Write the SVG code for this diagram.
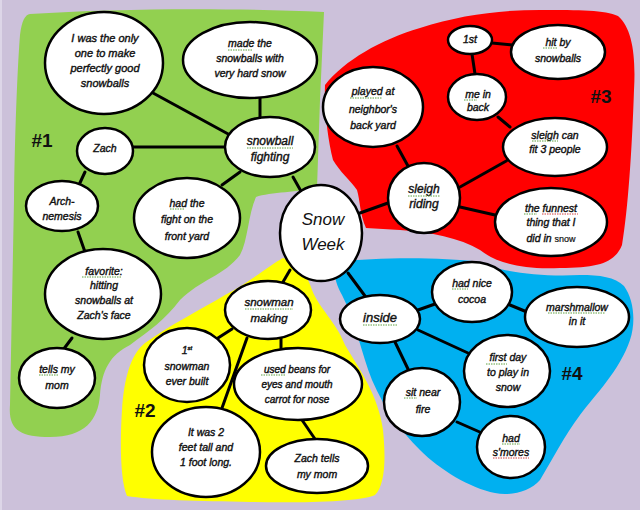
<svg xmlns="http://www.w3.org/2000/svg" width="640" height="510" viewBox="0 0 640 510">
<style>
.n{fill:#fff;stroke:#000;stroke-width:2.5}
.t{font-family:"Liberation Sans",Arial,sans-serif;font-style:italic;font-size:10.5px;fill:#111;text-anchor:middle;stroke:#111;stroke-width:0.4}
.big{font-size:12px}
.c line{stroke:#000;stroke-width:3;stroke-linecap:round}
.lab{font-family:"Liberation Sans",Arial,sans-serif;font-weight:bold;font-size:19px;fill:#111;text-anchor:middle}
.sg{stroke:#5fa040;stroke-width:1;stroke-dasharray:1.5 1}
.sr{stroke:#d04040;stroke-width:1;stroke-dasharray:1.5 1}
</style>
<rect x="0" y="0" width="640" height="510" fill="#ccc1da"/>
<rect x="0" y="0" width="2" height="510" fill="#ddd6e8"/>

<g id="regions">
<path fill="#92d050" d="M30 14 C120 8 240 8 324 12 L320 100 L317 188 C300 192 270 192 256 197 C248 215 248 240 240 255 C225 275 200 280 180 300 C165 320 150 330 130 345 C110 355 102 370 100 395 C98 420 85 437 50 437 C20 437 8 430 10 405 L14 200 C15 120 18 60 20 35 C22 20 25 15 30 14 Z"/>
<path fill="#ff0000" d="M325 85 C345 60 380 40 420 28 C460 15 500 10 540 10 C580 10 605 10 618 16 C632 28 636 55 634 90 C632 150 628 210 622 245 C615 262 600 268 560 268 C520 270 495 262 480 250 C460 238 430 232 400 230 L366 228 C360 215 360 200 357 190 C350 180 340 172 333 160 C328 140 324 110 325 85 Z"/>
<path fill="#00b0f0" d="M336 262 C380 257 440 257 480 262 C500 272 540 277 580 275 C600 275 615 277 624 286 C634 300 636 322 630 340 C620 370 595 395 580 415 C565 435 552 460 540 480 C530 492 510 496 495 493 C470 488 440 470 420 450 C400 430 385 410 372 380 C362 355 355 320 342 295 C336 285 332 270 336 262 Z"/>
<path fill="#ffff00" d="M283 258 C295 262 305 268 312 290 C320 310 335 320 345 345 C360 370 378 395 383 430 C386 460 385 485 375 495 C360 502 300 503 250 502 C200 501 150 500 127 496 C120 480 120 440 122 410 C124 380 130 355 145 343 C170 325 200 310 225 295 C250 282 270 265 283 258 Z"/>
</g>

<g id="labels">
<text class="lab" x="42" y="147">#1</text>
<text class="lab" x="145" y="417">#2</text>
<text class="lab" x="601" y="103">#3</text>
<text class="lab" x="572" y="380">#4</text>
</g>

<g id="connectors" class="c">
<line x1="153" y1="93" x2="230" y2="135"/>
<line x1="260" y1="98" x2="260" y2="118"/>
<line x1="133" y1="147" x2="225" y2="147"/>
<line x1="85" y1="172" x2="78" y2="187"/>
<line x1="78" y1="232" x2="85" y2="252"/>
<line x1="240" y1="172" x2="222" y2="185"/>
<line x1="293" y1="177" x2="302" y2="193"/>
<line x1="72" y1="338" x2="63" y2="350"/>
<line x1="492" y1="43" x2="512" y2="45"/>
<line x1="472" y1="54" x2="475" y2="74"/>
<line x1="498" y1="117" x2="510" y2="127"/>
<line x1="508" y1="160" x2="460" y2="187"/>
<line x1="397" y1="146" x2="408" y2="166"/>
<line x1="460" y1="207" x2="495" y2="215"/>
<line x1="360" y1="213" x2="388" y2="203"/>
<line x1="348" y1="273" x2="365" y2="296"/>
<line x1="418" y1="310" x2="435" y2="304"/>
<line x1="510" y1="305" x2="527" y2="312"/>
<line x1="418" y1="330" x2="468" y2="353"/>
<line x1="395" y1="342" x2="408" y2="369"/>
<line x1="457" y1="422" x2="482" y2="433"/>
<line x1="290" y1="270" x2="283" y2="282"/>
<line x1="232" y1="329" x2="218" y2="338"/>
<line x1="247" y1="338" x2="222" y2="408"/>
<line x1="281" y1="337" x2="281" y2="348"/>
<line x1="302" y1="420" x2="315" y2="439"/>
</g>

<g id="n-snowweek"><ellipse class="n" cx="321" cy="233" rx="41" ry="48"/>
<text class="t" style="font-size:17px;stroke-width:0" x="323"><tspan x="323" y="225">Snow</tspan><tspan x="323" y="250">Week</tspan></text></g>

<g id="n-only"><ellipse class="n" cx="104" cy="63" rx="59" ry="51"/>
<text class="t" style="font-size:11px"><tspan x="105" y="42">I was the only</tspan><tspan x="105" y="57">one to make</tspan><tspan x="105" y="72">perfectly good</tspan><tspan x="105" y="87">snowballs</tspan></text></g>

<g id="n-made"><ellipse class="n" cx="250" cy="60" rx="67" ry="38"/>
<text class="t"><tspan x="250" y="47">made the</tspan><tspan x="250" y="62">snowballs with</tspan><tspan x="250" y="77">very hard snow</tspan></text>
<line class="sg" x1="228" y1="50" x2="252" y2="50"/></g>

<g id="n-fighting"><ellipse class="n" cx="270" cy="147" rx="45" ry="30"/>
<text class="t big"><tspan x="270" y="145">snowball</tspan><tspan x="270" y="161">fighting</tspan></text>
<line class="sg" x1="247" y1="148" x2="293" y2="148"/></g>

<g id="n-zach"><ellipse class="n" cx="105" cy="151" rx="28" ry="23"/>
<text class="t" x="105" y="152">Zach</text></g>

<g id="n-arch"><ellipse class="n" cx="62" cy="206" rx="36" ry="25"/>
<text class="t"><tspan x="62" y="205">Arch-</tspan><tspan x="62" y="220">nemesis</tspan></text></g>

<g id="n-front"><ellipse class="n" cx="187" cy="218" rx="53" ry="40"/>
<text class="t"><tspan x="187" y="207">had the</tspan><tspan x="187" y="223">fight on the</tspan><tspan x="187" y="240">front yard</tspan></text>
<line class="sg" x1="170" y1="209" x2="185" y2="209"/></g>

<g id="n-favorite"><ellipse class="n" cx="103" cy="294" rx="58" ry="45"/>
<text class="t"><tspan x="104" y="275">favorite:</tspan><tspan x="104" y="289">hitting</tspan><tspan x="104" y="304">snowballs at</tspan><tspan x="104" y="319">Zach's face</tspan></text>
<line class="sg" x1="82" y1="277" x2="122" y2="277"/></g>

<g id="n-tells"><ellipse class="n" cx="57" cy="378" rx="38" ry="30"/>
<text class="t"><tspan x="57" y="373">tells my</tspan><tspan x="57" y="389">mom</tspan></text>
<line class="sg" x1="39" y1="375" x2="58" y2="375"/></g>

<g id="n-1st"><ellipse class="n" cx="470" cy="40" rx="22" ry="14"/>
<text class="t" x="470" y="43">1st</text></g>

<g id="n-hit"><ellipse class="n" cx="558" cy="52" rx="47" ry="27"/>
<text class="t"><tspan x="558" y="46">hit by</tspan><tspan x="558" y="62">snowballs</tspan></text>
<line class="sg" x1="543" y1="48" x2="557" y2="48"/></g>

<g id="n-me"><ellipse class="n" cx="477" cy="97" rx="29" ry="23"/>
<text class="t"><tspan x="478" y="98">me in</tspan><tspan x="478" y="111">back</tspan></text>
<line class="sg" x1="464" y1="100" x2="477" y2="100"/></g>

<g id="n-played"><ellipse class="n" cx="373" cy="107" rx="50" ry="40"/>
<text class="t"><tspan x="373" y="95">played at</tspan><tspan x="373" y="113">neighbor's</tspan><tspan x="373" y="129">back yard</tspan></text>
<line class="sg" x1="350" y1="98" x2="382" y2="98"/></g>

<g id="n-fit"><ellipse class="n" cx="555" cy="147" rx="52" ry="29"/>
<text class="t"><tspan x="555" y="139">sleigh can</tspan><tspan x="555" y="153">fit 3 people</tspan></text>
<line class="sg" x1="532" y1="141" x2="558" y2="141"/></g>

<g id="n-sleigh"><ellipse class="n" cx="424" cy="198" rx="36" ry="35"/>
<text class="t big"><tspan x="424" y="193">sleigh</tspan><tspan x="424" y="208">riding</tspan></text>
<line class="sg" x1="408" y1="196" x2="440" y2="196"/></g>

<g id="n-funnest"><ellipse class="n" cx="551" cy="222" rx="56" ry="34"/>
<text class="t"><tspan x="551" y="212">the funnest</tspan><tspan x="551" y="226">thing that I</tspan><tspan x="551" y="242">did in <tspan style="font-style:normal;font-size:9px;stroke-width:0.2">snow</tspan></tspan></text>
<line class="sg" x1="524" y1="214" x2="537" y2="214"/><line class="sr" x1="542" y1="214" x2="578" y2="214"/></g>

<g id="n-inside"><ellipse class="n" cx="380" cy="319" rx="40" ry="24"/>
<text class="t" style="font-size:13px" x="380" y="322">inside</text>
<line class="sg" x1="363" y1="325" x2="398" y2="325"/></g>

<g id="n-cocoa"><ellipse class="n" cx="472" cy="292" rx="40" ry="30"/>
<text class="t"><tspan x="472" y="287">had nice</tspan><tspan x="472" y="303">cocoa</tspan></text>
<line class="sg" x1="452" y1="289" x2="468" y2="289"/></g>

<g id="n-marsh"><ellipse class="n" cx="577" cy="317" rx="52" ry="30"/>
<text class="t"><tspan x="577" y="311">marshmallow</tspan><tspan x="577" y="325">in it</tspan></text>
<line class="sg" x1="548" y1="313" x2="605" y2="313"/></g>

<g id="n-first"><ellipse class="n" cx="507" cy="371" rx="43" ry="36"/>
<text class="t"><tspan x="508" y="361">first day</tspan><tspan x="508" y="376">to play in</tspan><tspan x="508" y="391">snow</tspan></text>
<line class="sg" x1="486" y1="364" x2="507" y2="364"/></g>

<g id="n-fire"><ellipse class="n" cx="422" cy="402" rx="38" ry="34"/>
<text class="t"><tspan x="423" y="396">sit near</tspan><tspan x="423" y="413">fire</tspan></text>
<line class="sg" x1="404" y1="398" x2="417" y2="398"/></g>

<g id="n-smores"><ellipse class="n" cx="511" cy="447" rx="34" ry="31"/>
<text class="t"><tspan x="511" y="442">had</tspan><tspan x="511" y="456">s'mores</tspan></text>
<line class="sg" x1="502" y1="444" x2="520" y2="444"/><line class="sr" x1="493" y1="458" x2="529" y2="458"/></g>

<g id="n-snowman"><ellipse class="n" cx="268" cy="310" rx="43" ry="29"/>
<text class="t" style="font-size:11.5px"><tspan x="269" y="306">snowman</tspan><tspan x="269" y="322">making</tspan></text>
<line class="sg" x1="245" y1="309" x2="293" y2="309"/></g>

<g id="n-firstsnowman"><ellipse class="n" cx="187" cy="365" rx="43" ry="37"/>
<text class="t"><tspan x="187" y="354">1<tspan style="font-size:6px" dy="-4">st</tspan></tspan><tspan x="187" y="370">snowman</tspan><tspan x="187" y="385">ever built</tspan></text></g>

<g id="n-beans"><ellipse class="n" cx="298" cy="384" rx="64" ry="36"/>
<text class="t" style="font-size:10px"><tspan x="297" y="373">used beans for</tspan><tspan x="297" y="388">eyes and mouth</tspan><tspan x="297" y="403">carrot for nose</tspan></text>
<line class="sg" x1="261" y1="375" x2="285" y2="375"/></g>

<g id="n-tall"><ellipse class="n" cx="206" cy="452" rx="54" ry="45"/>
<text class="t"><tspan x="206" y="436">It was 2</tspan><tspan x="206" y="451">feet tall and</tspan><tspan x="206" y="466">1 foot long.</tspan></text></g>

<g id="n-zachtells"><ellipse class="n" cx="317" cy="466" rx="51" ry="27"/>
<text class="t"><tspan x="317" y="462">Zach tells</tspan><tspan x="317" y="478">my mom</tspan></text></g>
</svg>
